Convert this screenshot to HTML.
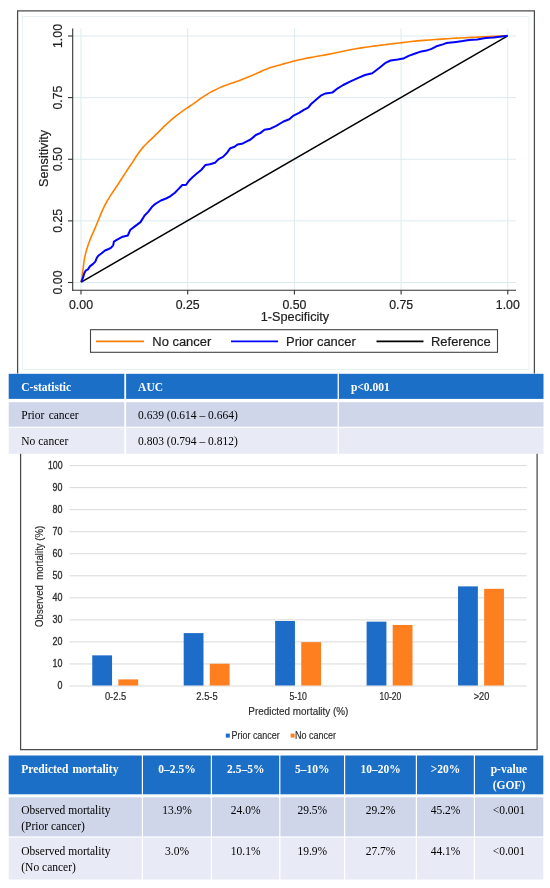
<!DOCTYPE html>
<html><head><meta charset="utf-8"><title>ROC and calibration</title>
<style>
html,body{margin:0;padding:0;background:#fff;}
body{width:550px;height:888px;position:relative;overflow:hidden;}
svg{position:absolute;left:0;top:0;}
.t12{font-family:"Liberation Sans",Arial,sans-serif;font-size:12.3px;fill:#1e1e1e;stroke:#1e1e1e;stroke-width:0.2px;}
.t12b{font-family:"Liberation Sans",Arial,sans-serif;font-size:12.7px;fill:#1e1e1e;stroke:#1e1e1e;stroke-width:0.2px;}
.t12c{font-family:"Liberation Sans",Arial,sans-serif;font-size:12.95px;fill:#1e1e1e;stroke:#1e1e1e;stroke-width:0.2px;}
.bt{font-family:"Liberation Sans",Arial,sans-serif;font-size:10.4px;fill:#2a2a2a;stroke:#2a2a2a;stroke-width:0.3px;}
.bx{font-family:"Liberation Sans",Arial,sans-serif;font-size:10.4px;fill:#2a2a2a;stroke:#2a2a2a;stroke-width:0.2px;}
.bxt{font-family:"Liberation Sans",Arial,sans-serif;font-size:10.3px;fill:#2a2a2a;stroke:#2a2a2a;stroke-width:0.15px;}
.bl{font-family:"Liberation Sans",Arial,sans-serif;font-size:10.2px;fill:#2a2a2a;stroke:#2a2a2a;stroke-width:0.15px;}
.byt{font-family:"Liberation Sans",Arial,sans-serif;font-size:10.9px;fill:#2a2a2a;stroke:#2a2a2a;stroke-width:0.15px;}
.b9{font-family:"Liberation Sans",Arial,sans-serif;font-size:8.9px;fill:#2e2e2e;}
.b10{font-family:"Liberation Sans",Arial,sans-serif;font-size:9.8px;fill:#2e2e2e;}
.tb{position:absolute;font-family:"Liberation Serif","Times New Roman",serif;font-size:11.5px;color:#000;}
.tb div{position:absolute;box-sizing:border-box;}
.h{color:#fff;font-weight:bold;}
.r1{}
.r2{}
</style></head>
<body>
<svg width="550" height="888" viewBox="0 0 550 888">
<path d="M17.6 373.5 V10.9 H534.4 V373.5" fill="none" stroke="#4a4a4a" stroke-width="1.25"/>
<rect x="22.5" y="16.5" width="506.5" height="353" fill="none" stroke="#e8f1f3" stroke-width="1"/>
<line x1="81.00" y1="28.5" x2="81.00" y2="290" stroke="#dcebee" stroke-width="1"/>
<line x1="73" y1="282.50" x2="516" y2="282.50" stroke="#dcebee" stroke-width="1"/>
<line x1="187.70" y1="28.5" x2="187.70" y2="290" stroke="#dcebee" stroke-width="1"/>
<line x1="73" y1="220.88" x2="516" y2="220.88" stroke="#dcebee" stroke-width="1"/>
<line x1="294.40" y1="28.5" x2="294.40" y2="290" stroke="#dcebee" stroke-width="1"/>
<line x1="73" y1="159.25" x2="516" y2="159.25" stroke="#dcebee" stroke-width="1"/>
<line x1="401.10" y1="28.5" x2="401.10" y2="290" stroke="#dcebee" stroke-width="1"/>
<line x1="73" y1="97.62" x2="516" y2="97.62" stroke="#dcebee" stroke-width="1"/>
<line x1="507.80" y1="28.5" x2="507.80" y2="290" stroke="#dcebee" stroke-width="1"/>
<line x1="73" y1="36.00" x2="516" y2="36.00" stroke="#dcebee" stroke-width="1"/>
<line x1="72.7" y1="28.5" x2="72.7" y2="290.8" stroke="#333" stroke-width="1.1"/>
<line x1="72.2" y1="290.3" x2="516" y2="290.3" stroke="#333" stroke-width="1.1"/>
<line x1="68" y1="282.50" x2="72.7" y2="282.50" stroke="#333" stroke-width="1.1"/>
<line x1="81.00" y1="290.3" x2="81.00" y2="294.5" stroke="#333" stroke-width="1.1"/>
<text x="81.00" y="308.7" text-anchor="middle" class="t12">0.00</text>
<text transform="translate(62.2 282.50) rotate(-90)" x="0" y="0" text-anchor="middle" class="t12">0.00</text>
<line x1="68" y1="220.88" x2="72.7" y2="220.88" stroke="#333" stroke-width="1.1"/>
<line x1="187.70" y1="290.3" x2="187.70" y2="294.5" stroke="#333" stroke-width="1.1"/>
<text x="187.70" y="308.7" text-anchor="middle" class="t12">0.25</text>
<text transform="translate(62.2 220.88) rotate(-90)" x="0" y="0" text-anchor="middle" class="t12">0.25</text>
<line x1="68" y1="159.25" x2="72.7" y2="159.25" stroke="#333" stroke-width="1.1"/>
<line x1="294.40" y1="290.3" x2="294.40" y2="294.5" stroke="#333" stroke-width="1.1"/>
<text x="294.40" y="308.7" text-anchor="middle" class="t12">0.50</text>
<text transform="translate(62.2 159.25) rotate(-90)" x="0" y="0" text-anchor="middle" class="t12">0.50</text>
<line x1="68" y1="97.62" x2="72.7" y2="97.62" stroke="#333" stroke-width="1.1"/>
<line x1="401.10" y1="290.3" x2="401.10" y2="294.5" stroke="#333" stroke-width="1.1"/>
<text x="401.10" y="308.7" text-anchor="middle" class="t12">0.75</text>
<text transform="translate(62.2 97.62) rotate(-90)" x="0" y="0" text-anchor="middle" class="t12">0.75</text>
<line x1="68" y1="36.00" x2="72.7" y2="36.00" stroke="#333" stroke-width="1.1"/>
<line x1="507.80" y1="290.3" x2="507.80" y2="294.5" stroke="#333" stroke-width="1.1"/>
<text x="507.80" y="308.7" text-anchor="middle" class="t12">1.00</text>
<text transform="translate(62.2 36.00) rotate(-90)" x="0" y="0" text-anchor="middle" class="t12">1.00</text>
<text x="295" y="320.6" text-anchor="middle" class="t12b">1-Specificity</text>
<text transform="translate(48.2 158.4) rotate(-90)" x="0" y="0" text-anchor="middle" class="t12b">Sensitivity</text>
<line x1="81.2" y1="282.1" x2="507.7" y2="35.8" stroke="#000" stroke-width="1.5"/>
<path d="M81.20 282.10 C81.34 281.11 81.78 278.12 82.06 276.13 C82.34 274.14 82.63 272.14 82.91 270.15 C83.19 268.16 83.43 266.16 83.71 264.17 C83.99 262.18 84.23 260.18 84.59 258.21 C84.95 256.24 85.37 254.28 85.87 252.35 C86.38 250.42 87.00 248.52 87.62 246.61 C88.24 244.71 88.88 242.80 89.59 240.92 C90.30 239.04 91.07 237.19 91.86 235.34 C92.65 233.49 93.52 231.67 94.32 229.83 C95.12 227.99 95.90 226.14 96.67 224.28 C97.44 222.42 98.17 220.55 98.93 218.69 C99.70 216.83 100.46 214.97 101.26 213.12 C102.06 211.27 102.86 209.42 103.72 207.61 C104.58 205.80 105.48 204.00 106.45 202.24 C107.42 200.48 108.45 198.75 109.51 197.05 C110.58 195.35 111.72 193.69 112.84 192.02 C113.96 190.35 115.12 188.71 116.24 187.04 C117.36 185.37 118.46 183.68 119.55 181.99 C120.64 180.30 121.71 178.60 122.80 176.91 C123.89 175.22 124.96 173.52 126.07 171.84 C127.17 170.16 128.31 168.49 129.43 166.82 C130.55 165.15 131.69 163.50 132.80 161.82 C133.91 160.14 134.97 158.44 136.08 156.76 C137.19 155.08 138.25 153.38 139.44 151.77 C140.63 150.16 141.89 148.61 143.22 147.11 C144.55 145.61 145.98 144.19 147.40 142.78 C148.82 141.37 150.31 140.01 151.76 138.62 C153.21 137.23 154.67 135.84 156.11 134.44 C157.55 133.03 158.97 131.61 160.40 130.19 C161.83 128.77 163.22 127.33 164.67 125.93 C166.11 124.53 167.57 123.14 169.07 121.80 C170.57 120.46 172.12 119.18 173.67 117.91 C175.22 116.64 176.80 115.38 178.39 114.16 C179.98 112.94 181.59 111.73 183.23 110.57 C184.87 109.41 186.57 108.34 188.24 107.22 C189.91 106.10 191.60 105.02 193.25 103.87 C194.90 102.73 196.52 101.52 198.15 100.35 C199.78 99.17 201.38 97.95 203.04 96.82 C204.70 95.69 206.37 94.59 208.10 93.58 C209.83 92.57 211.62 91.66 213.41 90.75 C215.20 89.84 217.00 88.94 218.82 88.11 C220.64 87.28 222.47 86.47 224.34 85.75 C226.21 85.03 228.12 84.43 230.01 83.77 C231.90 83.11 233.80 82.46 235.69 81.77 C237.58 81.08 239.46 80.37 241.34 79.65 C243.22 78.93 245.09 78.19 246.96 77.45 C248.83 76.71 250.71 75.98 252.57 75.21 C254.43 74.44 256.27 73.64 258.11 72.83 C259.95 72.02 261.76 71.15 263.61 70.36 C265.46 69.57 267.31 68.78 269.19 68.10 C271.07 67.42 273.00 66.84 274.92 66.27 C276.84 65.70 278.79 65.21 280.73 64.68 C282.67 64.15 284.61 63.61 286.55 63.08 C288.49 62.55 290.42 62.01 292.37 61.50 C294.32 60.99 296.27 60.51 298.23 60.05 C300.19 59.59 302.15 59.16 304.12 58.75 C306.09 58.34 308.06 57.96 310.04 57.59 C312.02 57.23 314.01 56.91 315.99 56.56 C317.97 56.22 319.95 55.88 321.93 55.52 C323.91 55.16 325.88 54.78 327.86 54.39 C329.84 54.00 331.81 53.59 333.78 53.19 C335.75 52.79 337.72 52.38 339.69 51.97 C341.66 51.56 343.63 51.15 345.60 50.75 C347.57 50.35 349.54 49.94 351.52 49.56 C353.50 49.19 355.47 48.83 357.45 48.50 C359.43 48.17 361.43 47.87 363.42 47.57 C365.41 47.27 367.40 46.98 369.39 46.70 C371.38 46.42 373.38 46.15 375.37 45.88 C377.37 45.62 379.36 45.36 381.36 45.11 C383.36 44.86 385.35 44.61 387.35 44.37 C389.35 44.13 391.34 43.90 393.34 43.66 C395.34 43.42 397.33 43.19 399.33 42.95 C401.33 42.71 403.32 42.46 405.32 42.22 C407.32 41.98 409.32 41.73 411.32 41.50 C413.32 41.27 415.32 41.05 417.32 40.85 C419.32 40.66 421.32 40.48 423.33 40.33 C425.33 40.18 427.34 40.06 429.35 39.93 C431.36 39.80 433.36 39.67 435.37 39.54 C437.38 39.41 439.38 39.27 441.39 39.13 C443.40 38.99 445.40 38.84 447.41 38.70 C449.42 38.56 451.43 38.43 453.44 38.31 C455.45 38.19 457.45 38.08 459.46 37.98 C461.47 37.88 463.48 37.78 465.49 37.68 C467.50 37.58 469.51 37.48 471.52 37.38 C473.53 37.28 475.54 37.19 477.55 37.09 C479.56 36.99 481.57 36.89 483.58 36.80 C485.59 36.71 487.60 36.62 489.61 36.54 C491.62 36.45 493.62 36.37 495.63 36.29 C497.64 36.21 499.66 36.12 501.67 36.04 C503.68 35.96 506.69 35.84 507.70 35.80" fill="none" stroke="#ff8000" stroke-width="1.6" stroke-linejoin="round"/>
<polyline points="81.2,282.1 82.7,278.7 84.2,273.5 85.7,270.6 87.9,269.4 90.1,266.1 93.1,263.9 95.3,261.6 96.8,257.9 98.3,255.7 101.3,253.5 105,250.5 108.7,249 110.9,247.9 113.2,245.3 113.9,241.6 117.6,239.3 122.7,236.7 127.8,235.5 130.4,229.7 135.5,225.9 140.5,222.1 142.5,218.9 144.4,215.7 148.2,211.9 152,206.8 155.8,203.6 160.9,200.5 166,198.5 169.8,196.6 174.9,192.8 177.9,189.6 182.3,185 185.9,185 189.5,180.2 192.5,177.3 196.8,173.6 201.2,170 205.5,164.9 209.9,164.2 215,162.7 218.6,159.1 223,156.9 226.6,153.3 230.3,148.2 234.6,146.7 237.5,144.5 241.9,143.8 246.3,141.6 250.6,139.5 255.8,135 260.2,133.1 264.5,129.7 270.4,128.7 276.2,125.8 283.5,121.5 289.3,119.3 293.6,115.6 299.5,112.7 303.8,109.8 308.2,107.6 311.1,104 316.9,98.9 321.3,95.3 325.6,93.4 332.3,92.6 337.7,88.3 343.2,85 350.5,81.4 357.7,78.1 365,75 372.3,73.2 379.5,67.7 385,63.2 390.5,60.5 397.7,59.5 403.2,58.6 408.6,55.9 415.9,53.2 421.4,51.4 426.5,50.6 431.5,48.9 436.4,46.3 442.9,44.4 446.2,43.1 456,41.9 462.6,41.1 469.1,40.1 477.3,39.5 485.5,38.1 493.6,37.5 501.8,36.5 507.7,35.8" fill="none" stroke="#0000ff" stroke-width="2" stroke-linejoin="round"/>
<rect x="90.5" y="329.7" width="407" height="22.6" fill="#fff" stroke="#444" stroke-width="1.1"/>
<line x1="96" y1="341.4" x2="144" y2="341.4" stroke="#ff8000" stroke-width="1.6"/>
<text x="152.3" y="345.8" class="t12c">No cancer</text>
<line x1="231" y1="341.4" x2="278" y2="341.4" stroke="#0000ff" stroke-width="1.6"/>
<text x="286" y="345.8" class="t12c">Prior cancer</text>
<line x1="376.5" y1="341.4" x2="423.5" y2="341.4" stroke="#000" stroke-width="1.6"/>
<text x="431" y="345.8" class="t12c">Reference</text>
<path d="M20.6 453 V749.5 H537.1 V453" fill="none" stroke="#4a4a4a" stroke-width="1.25"/>
<line x1="69.5" y1="686.00" x2="526.7" y2="686.00" stroke="#d9d9d9" stroke-width="1"/>
<text x="57.55" y="689.46" textLength="4.95" lengthAdjust="spacingAndGlyphs" class="bt">0</text>
<line x1="69.5" y1="663.96" x2="526.7" y2="663.96" stroke="#d9d9d9" stroke-width="1"/>
<text x="52.60" y="667.42" textLength="9.90" lengthAdjust="spacingAndGlyphs" class="bt">10</text>
<line x1="69.5" y1="641.92" x2="526.7" y2="641.92" stroke="#d9d9d9" stroke-width="1"/>
<text x="52.60" y="645.38" textLength="9.90" lengthAdjust="spacingAndGlyphs" class="bt">20</text>
<line x1="69.5" y1="619.88" x2="526.7" y2="619.88" stroke="#d9d9d9" stroke-width="1"/>
<text x="52.60" y="623.34" textLength="9.90" lengthAdjust="spacingAndGlyphs" class="bt">30</text>
<line x1="69.5" y1="597.84" x2="526.7" y2="597.84" stroke="#d9d9d9" stroke-width="1"/>
<text x="52.60" y="601.30" textLength="9.90" lengthAdjust="spacingAndGlyphs" class="bt">40</text>
<line x1="69.5" y1="575.80" x2="526.7" y2="575.80" stroke="#d9d9d9" stroke-width="1"/>
<text x="52.60" y="579.26" textLength="9.90" lengthAdjust="spacingAndGlyphs" class="bt">50</text>
<line x1="69.5" y1="553.76" x2="526.7" y2="553.76" stroke="#d9d9d9" stroke-width="1"/>
<text x="52.60" y="557.22" textLength="9.90" lengthAdjust="spacingAndGlyphs" class="bt">60</text>
<line x1="69.5" y1="531.72" x2="526.7" y2="531.72" stroke="#d9d9d9" stroke-width="1"/>
<text x="52.60" y="535.18" textLength="9.90" lengthAdjust="spacingAndGlyphs" class="bt">70</text>
<line x1="69.5" y1="509.68" x2="526.7" y2="509.68" stroke="#d9d9d9" stroke-width="1"/>
<text x="52.60" y="513.14" textLength="9.90" lengthAdjust="spacingAndGlyphs" class="bt">80</text>
<line x1="69.5" y1="487.64" x2="526.7" y2="487.64" stroke="#d9d9d9" stroke-width="1"/>
<text x="52.60" y="491.10" textLength="9.90" lengthAdjust="spacingAndGlyphs" class="bt">90</text>
<line x1="69.5" y1="465.60" x2="526.7" y2="465.60" stroke="#d9d9d9" stroke-width="1"/>
<text x="48.0" y="469.20000000000005" textLength="14.6" lengthAdjust="spacingAndGlyphs" class="bt">100</text>
<rect x="92.25" y="655.36" width="19.8" height="30.14" fill="#1c6cc8"/>
<rect x="118.35" y="679.39" width="19.8" height="6.11" fill="#fd7f20"/>
<text x="104.89999999999999" y="699.7" textLength="21.3" lengthAdjust="spacingAndGlyphs" class="bx">0-2.5</text>
<rect x="183.70" y="633.10" width="19.8" height="52.40" fill="#1c6cc8"/>
<rect x="209.80" y="663.74" width="19.8" height="21.76" fill="#fd7f20"/>
<text x="196.29999999999998" y="699.8" textLength="21.4" lengthAdjust="spacingAndGlyphs" class="bx">2.5-5</text>
<rect x="275.15" y="620.98" width="19.8" height="64.52" fill="#1c6cc8"/>
<rect x="301.25" y="642.14" width="19.8" height="43.36" fill="#fd7f20"/>
<text x="289.40000000000003" y="699.8" textLength="17.5" lengthAdjust="spacingAndGlyphs" class="bx">5-10</text>
<rect x="366.60" y="621.64" width="19.8" height="63.86" fill="#1c6cc8"/>
<rect x="392.70" y="624.95" width="19.8" height="60.55" fill="#fd7f20"/>
<text x="379.40000000000003" y="699.8" textLength="21.9" lengthAdjust="spacingAndGlyphs" class="bx">10-20</text>
<rect x="458.05" y="586.38" width="19.8" height="99.12" fill="#1c6cc8"/>
<rect x="484.15" y="588.80" width="19.8" height="96.70" fill="#fd7f20"/>
<text x="473.70000000000005" y="699.8" textLength="15.7" lengthAdjust="spacingAndGlyphs" class="bx">&gt;20</text>
<text x="248.29999999999998" y="714.8" textLength="100.1" lengthAdjust="spacingAndGlyphs" class="bxt">Predicted mortality (%)</text>
<text transform="translate(42.9 626.9) rotate(-90)" x="0" y="0" textLength="101.2" lengthAdjust="spacingAndGlyphs" class="byt">Observed&#160; mortality (%)</text>
<rect x="225.8" y="733.6" width="4" height="4" fill="#1c6cc8"/>
<text x="231.6" y="739.2" textLength="48.1" lengthAdjust="spacingAndGlyphs" class="bl">Prior cancer</text>
<rect x="290.6" y="733.6" width="4" height="4" fill="#fd7f20"/>
<text x="294.90000000000003" y="739.2" textLength="41.1" lengthAdjust="spacingAndGlyphs" class="bl">No cancer</text>
<rect x="8.7" y="373.8" width="115.60" height="25.10" fill="#1c6fc7"/>
<rect x="126.1" y="373.8" width="211.50" height="25.10" fill="#1c6fc7"/>
<rect x="338.9" y="373.8" width="204.60" height="25.10" fill="#1c6fc7"/>
<rect x="8.7" y="402.2" width="115.60" height="24.50" fill="#cfd6ea"/>
<rect x="126.1" y="402.2" width="211.50" height="24.50" fill="#cfd6ea"/>
<rect x="338.9" y="402.2" width="204.60" height="24.50" fill="#cfd6ea"/>
<rect x="8.7" y="427.8" width="115.60" height="26.00" fill="#e8ebf5"/>
<rect x="126.1" y="427.8" width="211.50" height="26.00" fill="#e8ebf5"/>
<rect x="338.9" y="427.8" width="204.60" height="26.00" fill="#e8ebf5"/>
<rect x="8.70" y="755.5" width="133.10" height="38.80" fill="#1c6fc7"/>
<rect x="143.00" y="755.5" width="67.80" height="38.80" fill="#1c6fc7"/>
<rect x="212.00" y="755.5" width="67.20" height="38.80" fill="#1c6fc7"/>
<rect x="280.40" y="755.5" width="63.60" height="38.80" fill="#1c6fc7"/>
<rect x="345.20" y="755.5" width="70.60" height="38.80" fill="#1c6fc7"/>
<rect x="417.00" y="755.5" width="56.80" height="38.80" fill="#1c6fc7"/>
<rect x="475.00" y="755.5" width="68.30" height="38.80" fill="#1c6fc7"/>
<rect x="8.70" y="797.3" width="133.10" height="39.10" fill="#cfd6ea"/>
<rect x="143.00" y="797.3" width="67.80" height="39.10" fill="#cfd6ea"/>
<rect x="212.00" y="797.3" width="67.20" height="39.10" fill="#cfd6ea"/>
<rect x="280.40" y="797.3" width="63.60" height="39.10" fill="#cfd6ea"/>
<rect x="345.20" y="797.3" width="70.60" height="39.10" fill="#cfd6ea"/>
<rect x="417.00" y="797.3" width="56.80" height="39.10" fill="#cfd6ea"/>
<rect x="475.00" y="797.3" width="68.30" height="39.10" fill="#cfd6ea"/>
<rect x="8.70" y="837.6" width="133.10" height="41.90" fill="#e8ebf5"/>
<rect x="143.00" y="837.6" width="67.80" height="41.90" fill="#e8ebf5"/>
<rect x="212.00" y="837.6" width="67.20" height="41.90" fill="#e8ebf5"/>
<rect x="280.40" y="837.6" width="63.60" height="41.90" fill="#e8ebf5"/>
<rect x="345.20" y="837.6" width="70.60" height="41.90" fill="#e8ebf5"/>
<rect x="417.00" y="837.6" width="56.80" height="41.90" fill="#e8ebf5"/>
<rect x="475.00" y="837.6" width="68.30" height="41.90" fill="#e8ebf5"/>
</svg>
<div class="tb" style="left:0;top:0;width:550px;height:888px;">
<div class="h" style="left:8.7px;top:373.8px;width:115.6px;height:25.1px;padding-left:12.6px;line-height:25.1px;"><span style="position:relative;top:1.3px">C-statistic</span></div>
<div class="h" style="left:126.1px;top:373.8px;width:211.5px;height:25.1px;padding-left:12px;line-height:25.1px;"><span style="position:relative;top:1.3px">AUC</span></div>
<div class="h" style="left:338.9px;top:373.8px;width:204.6px;height:25.1px;padding-left:12px;line-height:25.1px;"><span style="position:relative;top:1.3px">p&lt;0.001</span></div>
<div class="r1" style="left:8.7px;top:402.2px;width:115.6px;height:24.5px;padding-left:12.6px;line-height:24.5px;"><span style="position:relative;top:0.4px"><span style="word-spacing:1.5px">Prior cancer</span></span></div>
<div class="r1" style="left:126.1px;top:402.2px;width:211.5px;height:24.5px;padding-left:12px;line-height:24.5px;"><span style="position:relative;top:0.4px">0.639 (0.614 – 0.664)</span></div>
<div class="r1" style="left:338.9px;top:402.2px;width:204.6px;height:24.5px;padding-left:12px;line-height:24.5px;"><span style="position:relative;top:0.4px"></span></div>
<div class="r2" style="left:8.7px;top:427.8px;width:115.6px;height:26.0px;padding-left:12.6px;line-height:26.0px;"><span style="position:relative;top:0.4px">No cancer</span></div>
<div class="r2" style="left:126.1px;top:427.8px;width:211.5px;height:26.0px;padding-left:12px;line-height:26.0px;"><span style="position:relative;top:0.4px">0.803 (0.794 – 0.812)</span></div>
<div class="r2" style="left:338.9px;top:427.8px;width:204.6px;height:26.0px;padding-left:12px;line-height:26.0px;"><span style="position:relative;top:0.4px"></span></div>
</div>
<div class="tb" style="left:0;top:0;width:550px;height:888px;">
<div class="h" style="left:8.7px;top:755.5px;width:133.2px;height:38.8px;padding-left:12.6px;text-align:left;padding-top:5px;line-height:16px;"><span style="word-spacing:1.2px">Predicted mortality</span></div>
<div class="h" style="left:143.1px;top:755.5px;width:67.8px;height:38.8px;text-align:center;padding-top:5px;line-height:16px;">0–2.5%</div>
<div class="h" style="left:212.1px;top:755.5px;width:67.2px;height:38.8px;text-align:center;padding-top:5px;line-height:16px;">2.5–5%</div>
<div class="h" style="left:280.5px;top:755.5px;width:63.6px;height:38.8px;text-align:center;padding-top:5px;line-height:16px;">5–10%</div>
<div class="h" style="left:345.3px;top:755.5px;width:70.6px;height:38.8px;text-align:center;padding-top:5px;line-height:16px;">10–20%</div>
<div class="h" style="left:417.1px;top:755.5px;width:56.8px;height:38.8px;text-align:center;padding-top:5px;line-height:16px;">&gt;20%</div>
<div class="h" style="left:475.1px;top:755.5px;width:67.7px;height:38.8px;text-align:center;padding-top:5px;line-height:16px;">p-value<br>(GOF)</div>
<div class="r1" style="left:8.7px;top:797.3px;width:133.2px;height:39.1px;padding-left:12.6px;text-align:left;padding-top:5px;line-height:16px;">Observed mortality<br>(Prior cancer)</div>
<div class="r1" style="left:143.1px;top:797.3px;width:67.8px;height:39.1px;text-align:center;padding-top:5px;line-height:16px;">13.9%</div>
<div class="r1" style="left:212.1px;top:797.3px;width:67.2px;height:39.1px;text-align:center;padding-top:5px;line-height:16px;">24.0%</div>
<div class="r1" style="left:280.5px;top:797.3px;width:63.6px;height:39.1px;text-align:center;padding-top:5px;line-height:16px;">29.5%</div>
<div class="r1" style="left:345.3px;top:797.3px;width:70.6px;height:39.1px;text-align:center;padding-top:5px;line-height:16px;">29.2%</div>
<div class="r1" style="left:417.1px;top:797.3px;width:56.8px;height:39.1px;text-align:center;padding-top:5px;line-height:16px;">45.2%</div>
<div class="r1" style="left:475.1px;top:797.3px;width:67.7px;height:39.1px;text-align:center;padding-top:5px;line-height:16px;">&lt;0.001</div>
<div class="r2" style="left:8.7px;top:837.6px;width:133.2px;height:41.9px;padding-left:12.6px;text-align:left;padding-top:5px;line-height:16px;">Observed mortality<br>(No cancer)</div>
<div class="r2" style="left:143.1px;top:837.6px;width:67.8px;height:41.9px;text-align:center;padding-top:5px;line-height:16px;">3.0%</div>
<div class="r2" style="left:212.1px;top:837.6px;width:67.2px;height:41.9px;text-align:center;padding-top:5px;line-height:16px;">10.1%</div>
<div class="r2" style="left:280.5px;top:837.6px;width:63.6px;height:41.9px;text-align:center;padding-top:5px;line-height:16px;">19.9%</div>
<div class="r2" style="left:345.3px;top:837.6px;width:70.6px;height:41.9px;text-align:center;padding-top:5px;line-height:16px;">27.7%</div>
<div class="r2" style="left:417.1px;top:837.6px;width:56.8px;height:41.9px;text-align:center;padding-top:5px;line-height:16px;">44.1%</div>
<div class="r2" style="left:475.1px;top:837.6px;width:67.7px;height:41.9px;text-align:center;padding-top:5px;line-height:16px;">&lt;0.001</div>
</div>
</body></html>
